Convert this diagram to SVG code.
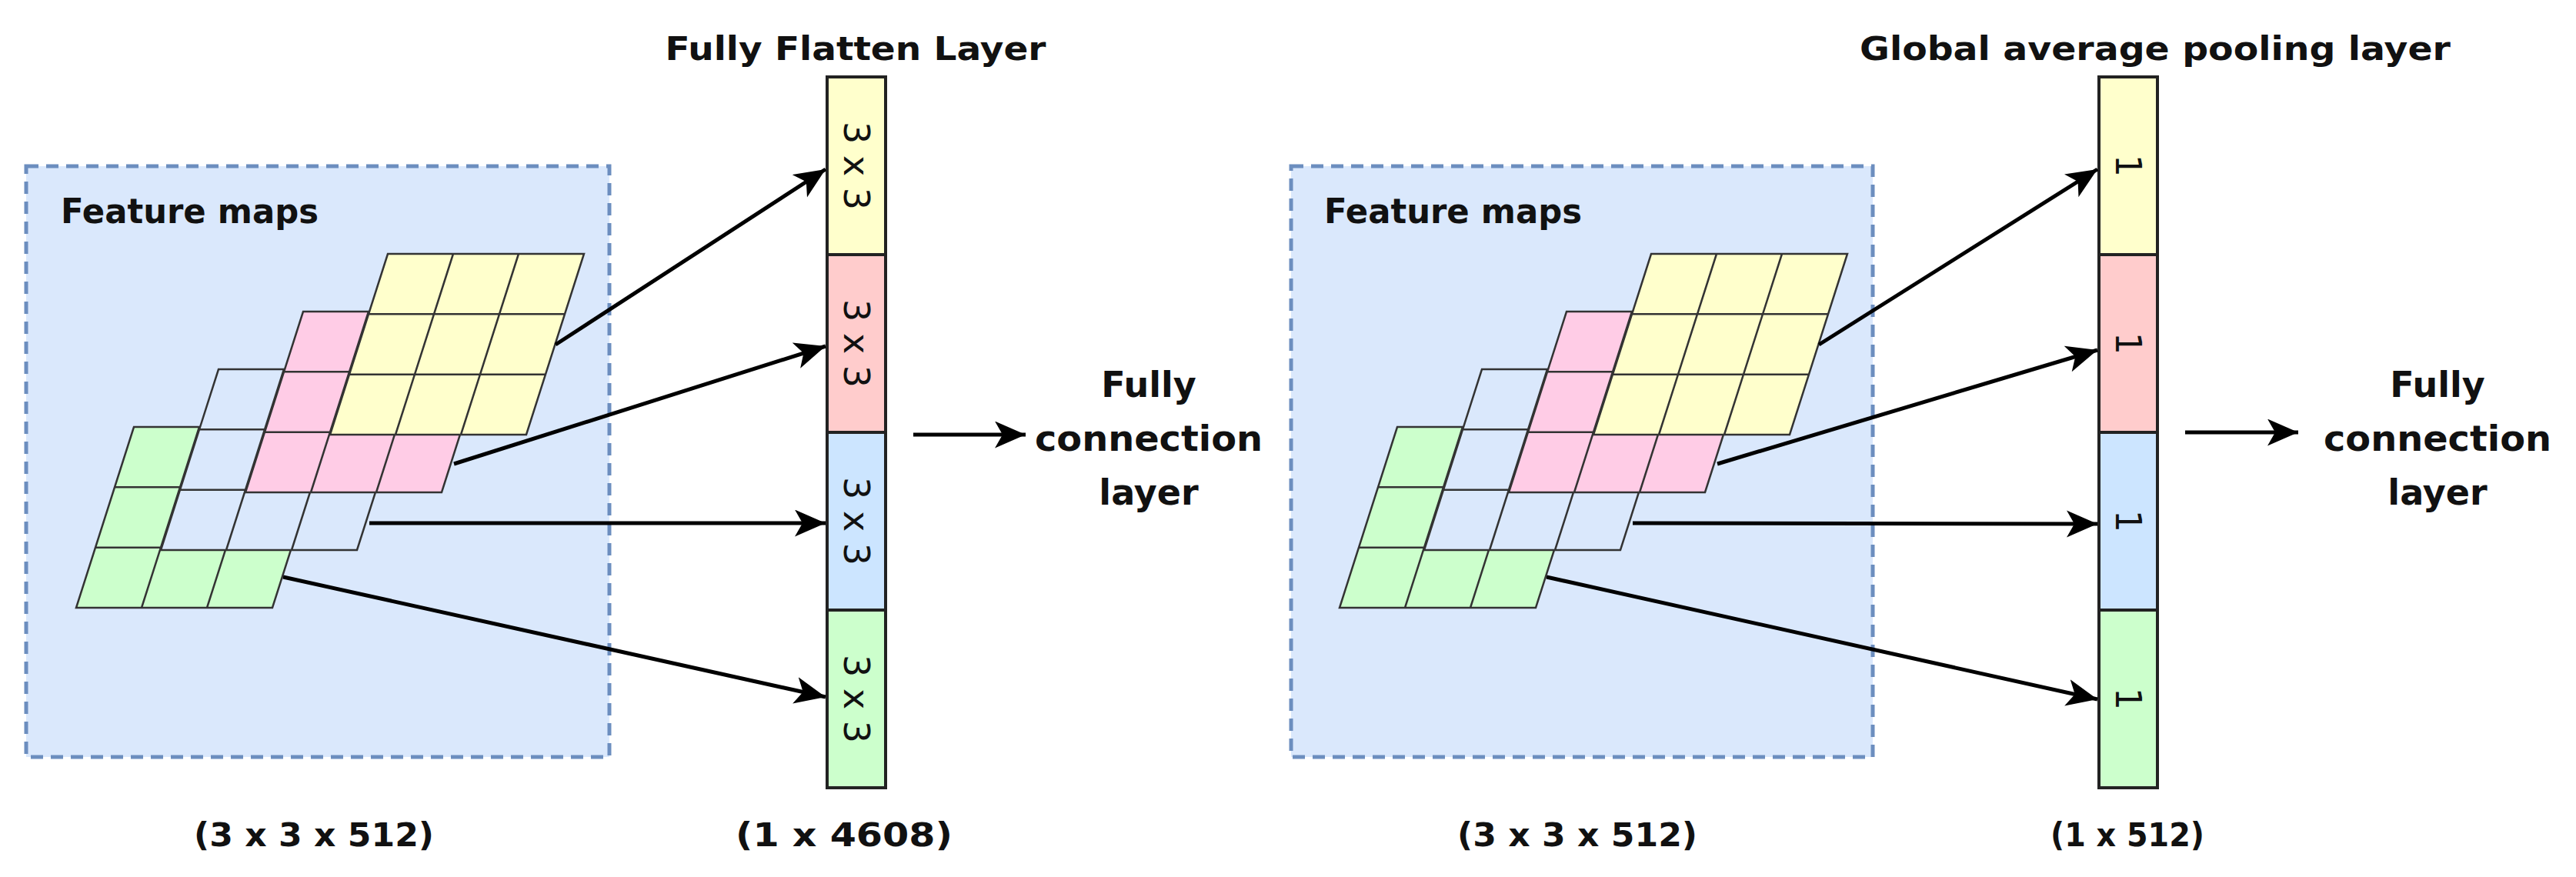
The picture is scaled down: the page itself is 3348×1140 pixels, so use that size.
<svg xmlns="http://www.w3.org/2000/svg" width="3348" height="1140" viewBox="0 0 3348 1140">
<style>
.t{font-family:"DejaVu Sans","Liberation Sans",sans-serif;font-weight:bold;fill:#111;text-anchor:middle}
.v{font-family:"DejaVu Sans","Liberation Sans",sans-serif;fill:#111;text-anchor:middle;font-size:46px}
.box{fill:#dae8fc;stroke:#6c8ebf;stroke-width:5;stroke-dasharray:16 10}
.g{stroke:#333;stroke-width:2.5}
.seg{stroke:#222;stroke-width:4}
.a{stroke:#000;stroke-width:5;fill:none;marker-end:url(#ah)}
</style>
<defs>
<marker id="ah" markerWidth="9" markerHeight="8" refX="8" refY="3.5" orient="auto" markerUnits="strokeWidth" viewBox="0 0 9 8">
<path d="M0,0 L8,3.5 L0,7 L2,3.5 z" fill="#000"/>
</marker>
<g id="grid">
<g class="g">
<path fill="#ccffcc" d="M174,555 h255 l-75,235 h-255 z M259,555 l-75,235 M344,555 l-75,235 M149,633.3 h255 M124,711.7 h255"/>
<path fill="#dae8fc" d="M284,480 h255 l-75,235 h-255 z M369,480 l-75,235 M454,480 l-75,235 M259,558.3 h255 M234,636.7 h255"/>
<path fill="#ffcce6" d="M394,405 h255 l-75,235 h-255 z M479,405 l-75,235 M564,405 l-75,235 M369,483.3 h255 M344,561.7 h255"/>
<path fill="#ffffcc" d="M504,330 h255 l-75,235 h-255 z M589,330 l-75,235 M674,330 l-75,235 M479,408.3 h255 M454,486.7 h255"/>
</g>
</g>
</defs>

<g id="left-featuremaps">
<rect class="box" x="34" y="216" width="758" height="768"/>
<text class="t" x="79" y="290" font-size="44" style="text-anchor:start" textLength="335" lengthAdjust="spacingAndGlyphs">Feature maps</text>
<use href="#grid"/>
</g>
<g id="left-bar">
<rect class="seg" x="1075" y="100" width="76" height="231" fill="#ffffcc"/>
<rect class="seg" x="1075" y="331" width="76" height="231" fill="#ffcccc"/>
<rect class="seg" x="1075" y="562" width="76" height="231" fill="#cce5ff"/>
<rect class="seg" x="1075" y="793" width="76" height="231" fill="#ccffcc"/>
<text class="v" transform="translate(1097,215.5) rotate(90)">3 x 3</text>
<text class="v" transform="translate(1097,446.5) rotate(90)">3 x 3</text>
<text class="v" transform="translate(1097,677.5) rotate(90)">3 x 3</text>
<text class="v" transform="translate(1097,908.5) rotate(90)">3 x 3</text>
</g>
<g id="left-labels">
<text class="t" x="1112" y="78" font-size="42" textLength="495" lengthAdjust="spacingAndGlyphs">Fully Flatten Layer</text>
<text class="t" x="408" y="1100" font-size="42" textLength="312" lengthAdjust="spacingAndGlyphs">(3 x 3 x 512)</text>
<text class="t" x="1097" y="1100" font-size="42" textLength="282" lengthAdjust="spacingAndGlyphs">(1 x 4608)</text>
<text class="t" x="1493" y="516" font-size="46">Fully</text>
<text class="t" x="1493" y="586" font-size="46" textLength="296" lengthAdjust="spacingAndGlyphs">connection</text>
<text class="t" x="1493" y="656" font-size="46">layer</text>
</g>

<g id="right-featuremaps">
<rect class="box" x="1678" y="216" width="756" height="768"/>
<text class="t" x="1721" y="290" font-size="44" style="text-anchor:start" textLength="335" lengthAdjust="spacingAndGlyphs">Feature maps</text>
<use href="#grid" x="1642"/>
</g>
<g id="right-bar">
<rect class="seg" x="2728" y="100" width="76" height="231" fill="#ffffcc"/>
<rect class="seg" x="2728" y="331" width="76" height="231" fill="#ffcccc"/>
<rect class="seg" x="2728" y="562" width="76" height="231" fill="#cce5ff"/>
<rect class="seg" x="2728" y="793" width="76" height="231" fill="#ccffcc"/>
<text class="v" transform="translate(2750,215.5) rotate(90)">1</text>
<text class="v" transform="translate(2750,446.5) rotate(90)">1</text>
<text class="v" transform="translate(2750,677.5) rotate(90)">1</text>
<text class="v" transform="translate(2750,908.5) rotate(90)">1</text>
</g>
<g id="right-labels">
<text class="t" x="2801" y="78" font-size="42" textLength="768" lengthAdjust="spacingAndGlyphs">Global average pooling layer</text>
<text class="t" x="2050" y="1100" font-size="42" textLength="312" lengthAdjust="spacingAndGlyphs">(3 x 3 x 512)</text>
<text class="t" x="2765" y="1100" font-size="42" textLength="200" lengthAdjust="spacingAndGlyphs">(1 x 512)</text>
<text class="t" x="3168" y="516" font-size="46">Fully</text>
<text class="t" x="3168" y="586" font-size="46" textLength="296" lengthAdjust="spacingAndGlyphs">connection</text>
<text class="t" x="3168" y="656" font-size="46">layer</text>
</g>

<g id="connectors">
<line class="a" x1="722" y1="448" x2="1073" y2="220"/>
<line class="a" x1="590" y1="603" x2="1073" y2="450"/>
<line class="a" x1="480" y1="680" x2="1073" y2="680"/>
<line class="a" x1="368" y1="750" x2="1073" y2="906"/>
<line class="a" x1="1187" y1="565" x2="1333" y2="565"/>
<line class="a" x1="2364" y1="448" x2="2726" y2="220"/>
<line class="a" x1="2232" y1="603" x2="2726" y2="455"/>
<line class="a" x1="2122" y1="680" x2="2726" y2="681"/>
<line class="a" x1="2010" y1="750" x2="2726" y2="909"/>
<line class="a" x1="2840" y1="562" x2="2987" y2="562"/>
</g>
</svg>
